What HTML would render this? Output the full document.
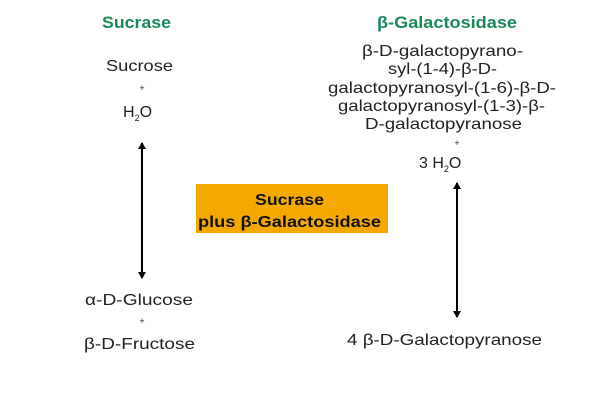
<!DOCTYPE html>
<html><head><meta charset="utf-8"><style>
html,body{margin:0;padding:0;background:#fff;width:600px;height:400px;overflow:hidden}
svg{display:block}
text{font-family:"Liberation Sans",sans-serif;fill:#222}
.h{font-weight:bold;fill:#1a8a5a;font-size:17px}
.t{font-size:16px}
.p{font-size:9px}
.b{font-weight:bold;font-size:16px;fill:#111}
</style></head><body>
<svg width="600" height="400" viewBox="0 0 600 400">
<defs>
<marker id="a" markerWidth="8" markerHeight="8" refX="6" refY="4" orient="auto" markerUnits="userSpaceOnUse">
<path d="M0,0 L7,4 L0,8 z" fill="#000"/></marker>
</defs>
<text class="h" x="102" y="28" textLength="69" lengthAdjust="spacingAndGlyphs">Sucrase</text>
<text class="h" x="377" y="28" textLength="140" lengthAdjust="spacingAndGlyphs">β-Galactosidase</text>

<text class="t" x="106" y="71" textLength="67" lengthAdjust="spacingAndGlyphs">Sucrose</text>
<text class="p" x="142" y="91" text-anchor="middle">+</text>
<text class="t" x="123" y="117">H<tspan font-size="9" dy="4">2</tspan><tspan dy="-4">O</tspan></text>

<text class="t" x="362" y="56" textLength="161" lengthAdjust="spacingAndGlyphs">β-D-galactopyrano-</text>
<text class="t" x="388" y="74" textLength="109" lengthAdjust="spacingAndGlyphs">syl-(1-4)-β-D-</text>
<text class="t" x="328" y="93" textLength="228" lengthAdjust="spacingAndGlyphs">galactopyranosyl-(1-6)-β-D-</text>
<text class="t" x="338" y="111" textLength="207" lengthAdjust="spacingAndGlyphs">galactopyranosyl-(1-3)-β-</text>
<text class="t" x="365" y="129" textLength="157" lengthAdjust="spacingAndGlyphs">D-galactopyranose</text>
<text class="p" x="457" y="146" text-anchor="middle">+</text>
<text class="t" x="419" y="168">3 H<tspan font-size="9" dy="4">2</tspan><tspan dy="-4">O</tspan></text>

<line x1="142" y1="143" x2="142" y2="278" stroke="#000" stroke-width="2" marker-end="url(#a)"/>
<line x1="142" y1="278" x2="142" y2="143" stroke="#000" stroke-width="2" marker-end="url(#a)"/>
<line x1="457" y1="183" x2="457" y2="317" stroke="#000" stroke-width="2" marker-end="url(#a)"/>
<line x1="457" y1="317" x2="457" y2="183" stroke="#000" stroke-width="2" marker-end="url(#a)"/>

<rect x="196" y="184" width="192" height="49" fill="#f5a800"/>
<text class="b" x="255" y="205" textLength="69" lengthAdjust="spacingAndGlyphs">Sucrase</text>
<text class="b" x="198" y="227" textLength="183" lengthAdjust="spacingAndGlyphs">plus β-Galactosidase</text>

<text class="t" x="85" y="305" textLength="108" lengthAdjust="spacingAndGlyphs">α-D-Glucose</text>
<text class="p" x="142" y="324" text-anchor="middle">+</text>
<text class="t" x="84" y="349" textLength="111" lengthAdjust="spacingAndGlyphs">β-D-Fructose</text>
<text class="t" x="347" y="345" textLength="195" lengthAdjust="spacingAndGlyphs">4 β-D-Galactopyranose</text>
</svg>
</body></html>
